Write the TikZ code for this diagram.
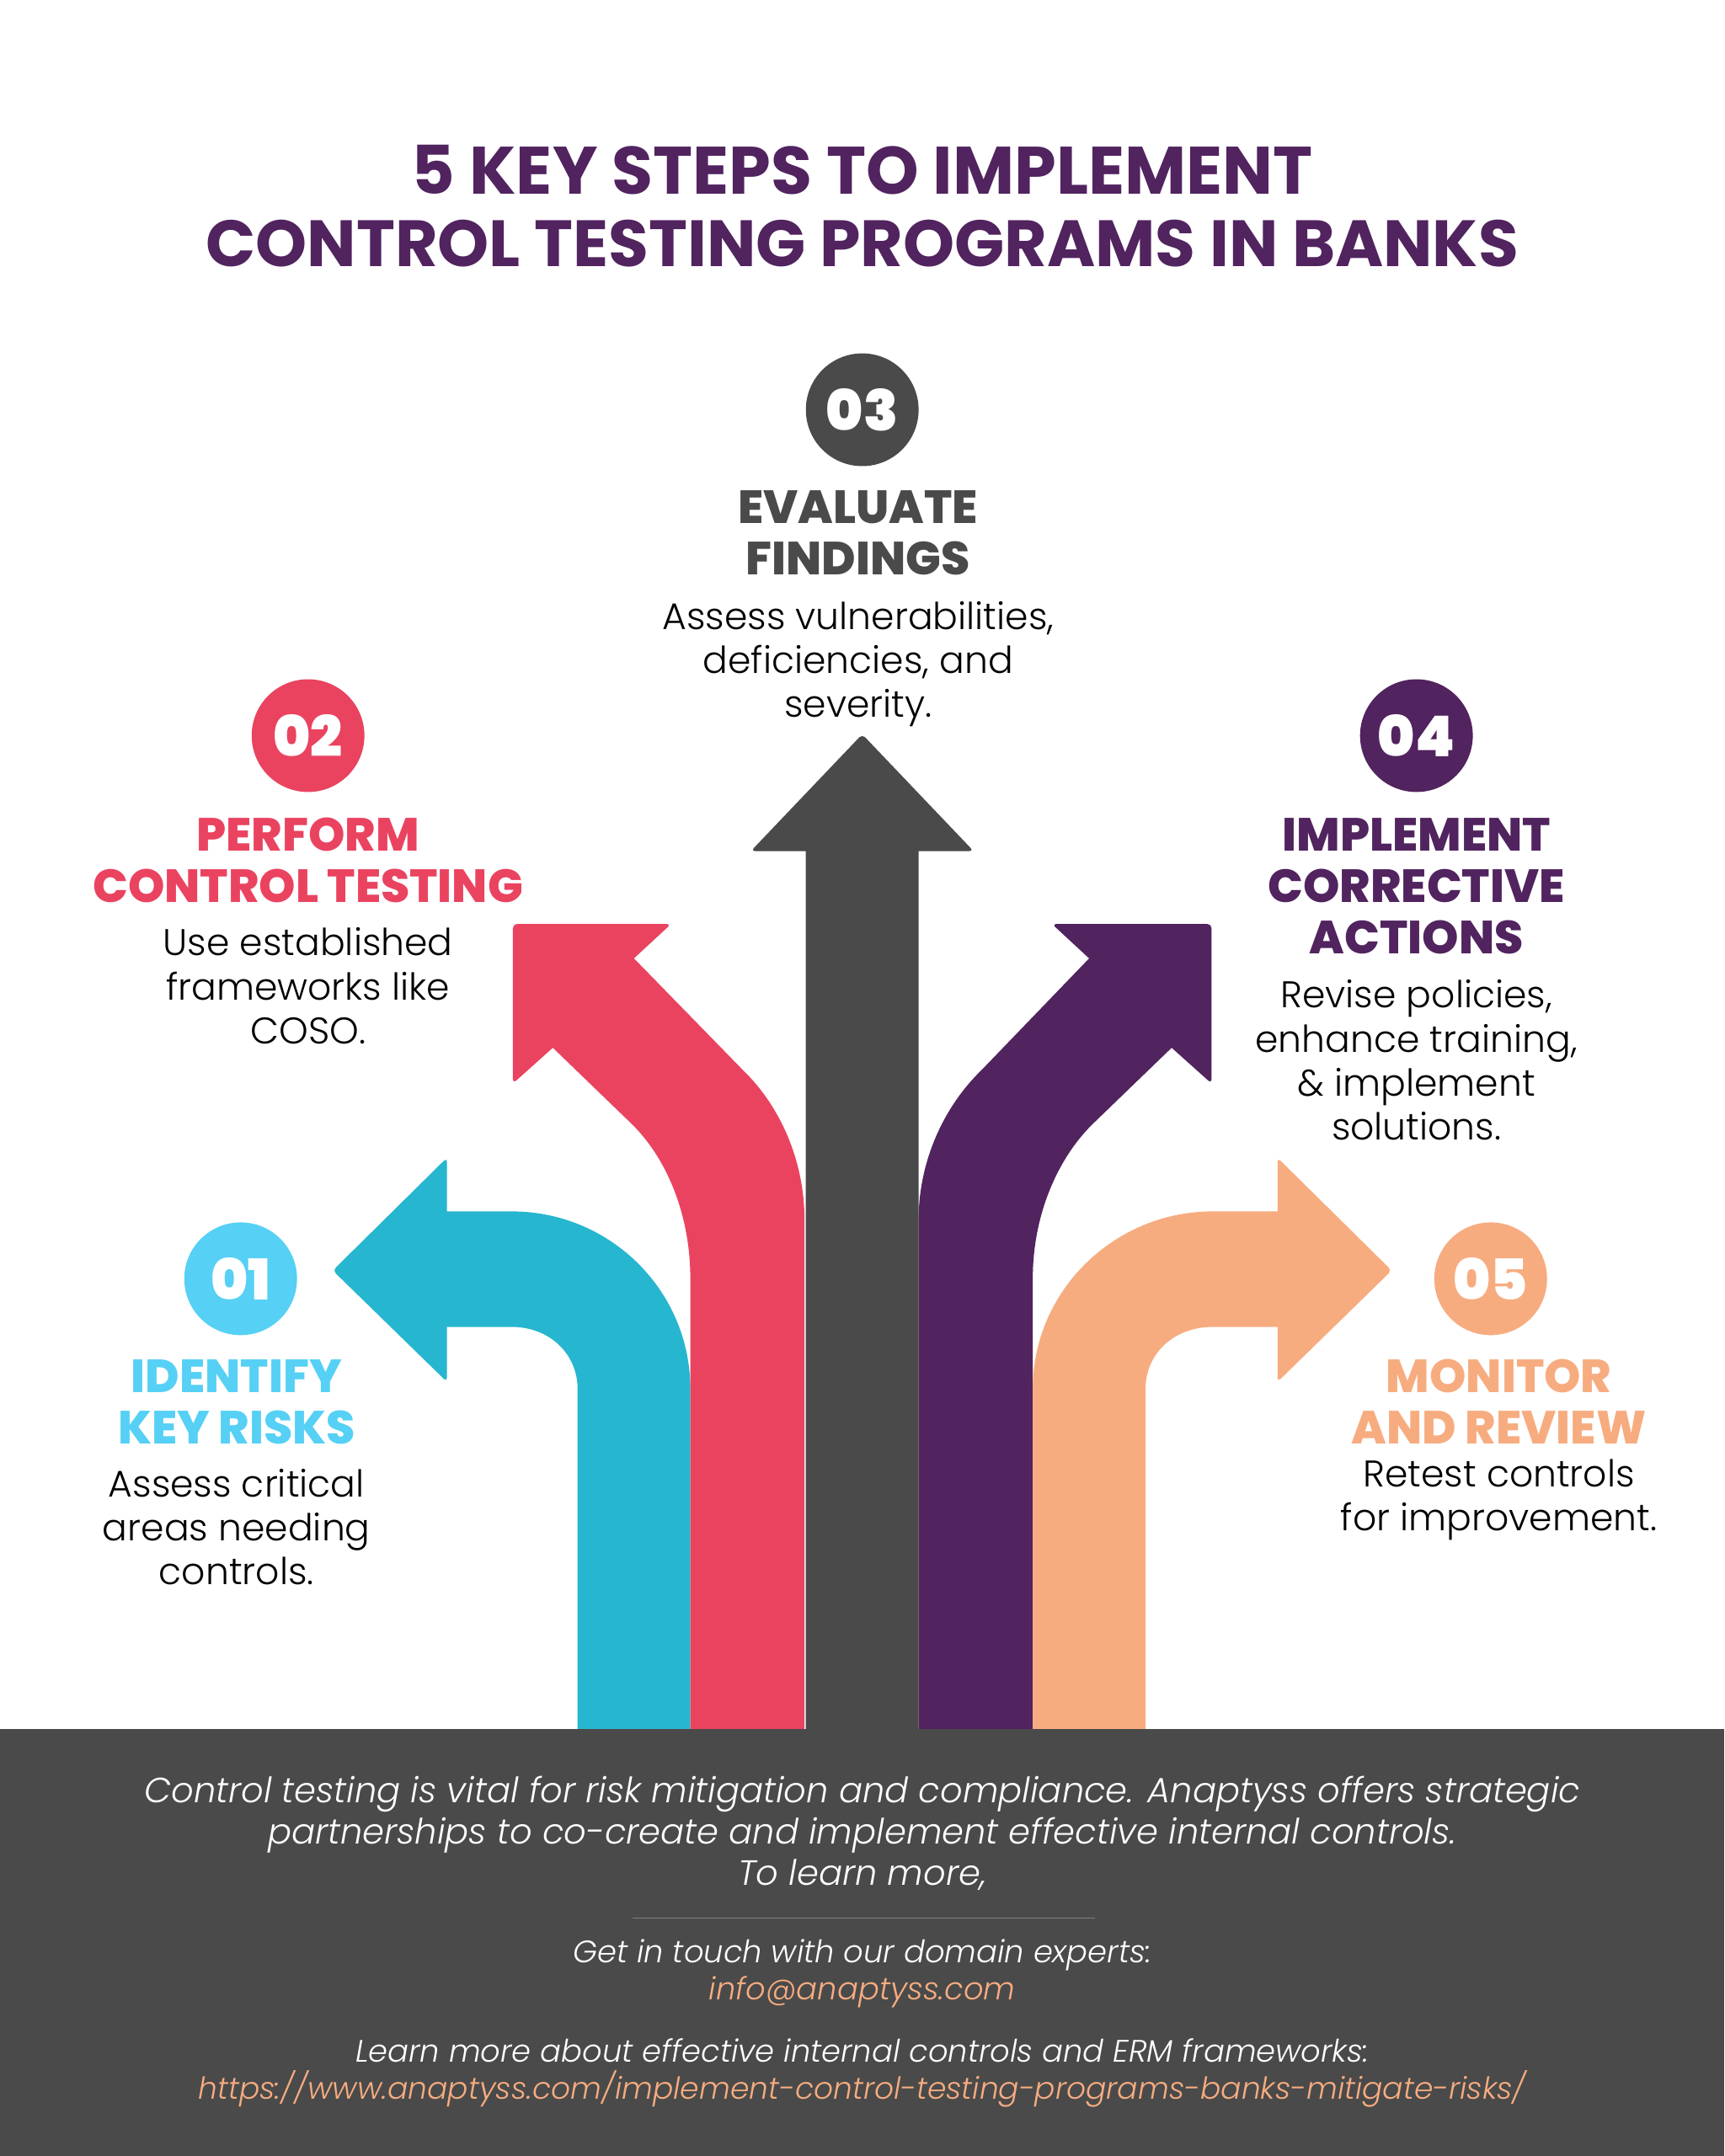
\documentclass[tikz,border=0pt]{standalone}
\usepackage{fontspec}
\setmainfont{Poppins Light}[BoldFont=Poppins Bold,ItalicFont=Poppins Light Italic]
\newfontfamily\titlefont{Poppins Bold}
\newfontfamily\headfont{Poppins ExtraBold}
\newfontfamily\numfont{Poppins Black}
\definecolor{tealarrow}{HTML}{27B6CF}
\definecolor{skyblue}{HTML}{56D0F5}
\definecolor{redarrow}{HTML}{EA4360}
\definecolor{darkarrow}{HTML}{4A4A4A}
\definecolor{purplearrow}{HTML}{51235F}
\definecolor{peacharrow}{HTML}{F7AC80}
\begin{document}
\begin{tikzpicture}[x=1pt,y=-1pt,
    titletext/.style ={align=center,text=purplearrow,font=\titlefont\fontsize{48.8}{52.5}\selectfont},
    stepnum/.style ={circle,minimum size=82pt,inner sep=0pt,text=white,font=\numfont\fontsize{41}{44}\selectfont},
    stephead/.style ={align=center,inner sep=0pt,font=\headfont\fontsize{33.8}{37.5}\selectfont},
    stepbody/.style ={align=center,inner sep=0pt,font=\fontsize{27}{32}\selectfont},
    foottext/.style ={align=center,inner sep=0pt,text=white,font=\itshape\fontsize{25.5}{30}\selectfont},
    footsmall/.style ={align=center,inner sep=0pt,text=white,font=\itshape\fontsize{22.6}{27}\selectfont}]
   \useasboundingbox (0,0) rectangle (1254,1568);
   \fill[white] (0,0) rectangle (1254,1568);
   % arrows
   \fill[tealarrow] (420,1258) -- (420,1010) .. controls (420,985) and (400,965) .. (372,965) -- (325,965)
      [rounded corners=3pt] -- (325,1005) -- (242,924) -- (325,842) [sharp corners] -- (325,881) -- (372,881)
      .. controls (444,881) and (502,939) .. (502,1010) -- (502,1258) -- cycle;
   \fill[redarrow] (502,1258) -- (502,930) .. controls (502,885) and (486,844) .. (460,818) -- (402,762)
      [rounded corners=3pt] -- (373,788) -- (373,672) -- (488,672) [sharp corners] -- (461,697) -- (540,778)
      .. controls (568,805) and (585,845) .. (585,887) -- (585,1258) -- cycle;
   \fill[darkarrow] (586,1258) -- (586,619) [rounded corners=3pt] -- (546,619) -- (627,534) -- (708,619)
      [sharp corners] -- (668,619) -- (668,1258) -- cycle;
   \fill[purplearrow] (751,1258) -- (751,930) .. controls (751,885) and (768,844) .. (794,818) -- (852,762)
      [rounded corners=3pt] -- (881,788) -- (881,672) -- (765,672) [sharp corners] -- (792,697) -- (714,778)
      .. controls (686,805) and (668,845) .. (668,887) -- (668,1258) -- cycle;
   \fill[peacharrow] (833,1258) -- (833,1010) .. controls (833,985) and (853,965) .. (882,965) -- (929,965)
      [rounded corners=3pt] -- (929,1005) -- (1012,924) -- (929,842) [sharp corners] -- (929,881) -- (882,881)
      .. controls (810,881) and (751,939) .. (751,1010) -- (751,1258) -- cycle;
   % footer band
   \fill[darkarrow] (0,1257.5) rectangle (1254,1568);
   % title
   \node[titletext] (title) at (627,150) {5 KEY STEPS TO IMPLEMENT\\\fontsize{47.6}{52.5}\selectfont CONTROL TESTING PROGRAMS IN BANKS};
   % step one
   \node[stepnum,fill=skyblue] (numA) at (175,930) {01};
   \node[stephead,text=skyblue] (headA) at (172,1019.5) {IDENTIFY\\KEY RISKS};
   \node[stepbody] (bodyA) at (172,1110.5) {Assess critical\\areas needing\\controls.};
   % step two
   \node[stepnum,fill=redarrow] (numB) at (224,535) {02};
   \node[stephead,text=redarrow] (headB) at (224,625.5) {PERFORM\\CONTROL TESTING};
   \node[stepbody] (bodyB) at (224,717) {Use established\\frameworks like\\COSO.};
   % step three
   \node[stepnum,fill=darkarrow] (numC) at (627,298) {03};
   \node[stephead,text=darkarrow] (headC) at (624,387.5) {EVALUATE\\FINDINGS};
   \node[stepbody] (bodyC) at (624,483) {Assess vulnerabilities,\\deficiencies, and\\severity.};
   % step four
   \node[stepnum,fill=purplearrow] (numD) at (1030,535) {04};
   \node[stephead,text=purplearrow] (headD) at (1030,644.5) {IMPLEMENT\\CORRECTIVE\\ACTIONS};
   \node[stepbody] (bodyD) at (1030,771) {Revise policies,\\enhance training,\\\& implement\\solutions.};
   % step five
   \node[stepnum,fill=peacharrow] (numE) at (1084,930) {05};
   \node[stephead,text=peacharrow] (headE) at (1090,1019.5) {MONITOR\\AND REVIEW};
   \node[stepbody] (bodyE) at (1090,1091) {Retest controls\\for improvement.};
   % footer
   \node[foottext] (footA) at (627,1333.5) {Control testing is vital for risk mitigation and compliance. Anaptyss offers strategic\\partnerships to co-create and implement effective internal controls.\\To learn more,};
   \coordinate (ruleL) at (460,1395);
   \coordinate (ruleR) at (796,1395);
   \draw[gray,line width=0.8pt] (ruleL) -- (ruleR);
   \node[footsmall] (footB) at (627,1422) {Get in touch with our domain experts:};
   \node[footsmall,text=peacharrow] (footC) at (627,1449) {info@anaptyss.com};
   \node[footsmall] (footD) at (627,1491) {Learn more about effective internal controls and ERM frameworks:};
   \node[footsmall,text=peacharrow,font=\itshape\fontsize{22.1}{27}\selectfont] (footE) at (627,1519) {https://www.anaptyss.com/implement-control-testing-programs-banks-mitigate-risks/};
 \end{tikzpicture}
\end{document}
